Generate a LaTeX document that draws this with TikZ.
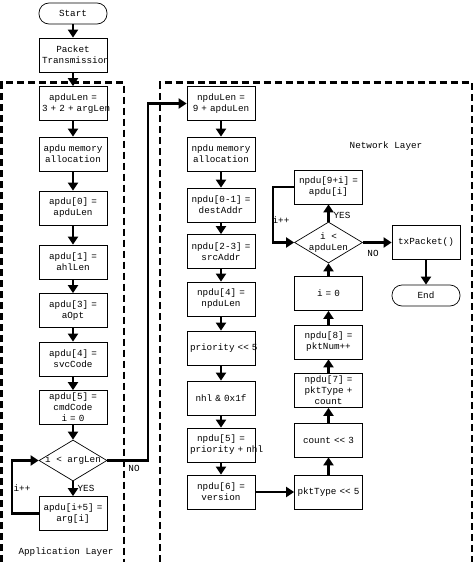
\documentclass[tikz,border=0pt]{standalone}
\usepackage{fontspec}
\newfontfamily\flowfont{Liberation Mono}[WordSpace={1,0,0}]
\newcommand\flowtext{\flowfont\fontsize{9.3}{11}\selectfont}
\usetikzlibrary{arrows.meta,shapes.geometric}

\tikzset{
  blk/.style={draw, line width=0.7pt, text width=62pt, minimum height=34pt,
    inner xsep=3pt, inner ysep=1pt, align=center},
  term/.style={draw, line width=0.7pt, rounded corners=10pt,
    minimum width=68pt, minimum height=21pt},
  cond/.style={draw, line width=0.7pt, diamond, minimum width=68pt,
    minimum height=41pt, inner sep=0pt},
  arr/.style={line width=2.2pt, -{Triangle[length=8pt,width=10pt]}},
  layer/.style={line width=2.4pt, dash pattern=on 7pt off 4pt},
  lbl/.style={inner sep=1pt}
}

\begin{document}
\begin{tikzpicture}[x=1pt,y=-1pt,font=\flowtext]
\useasboundingbox (0,0) rectangle (474,562);

% layers
\draw[layer] (1.5,562) -- (1.5,82.5) -- (124,82.5) -- (124,562);
\draw[layer] (160,562) -- (160,82.5) -- (472,82.5) -- (472,562);
\node[lbl] (applbl) at (66,552) {Application Layer};
\node[lbl] (netlbl) at (386,146) {Network Layer};

% application layer
\node[term] (start) at (73,13.5) {Start};
\node[blk] (pkt) at (73,55) {Packet\\\mbox{Transmission}};
\node[blk] (a1) at (73,103.5) {apduLen =\\\mbox{3 + 2 + argLen}};
\node[blk] (a2) at (73,154) {\mbox{apdu memory}\\allocation};
\node[blk] (a3) at (73,208) {apdu[0] =\\apduLen};
\node[blk] (a4) at (73,262) {apdu[1] =\\ahlLen};
\node[blk] (a5) at (73,310.5) {apdu[3] =\\aOpt};
\node[blk] (a6) at (73,359) {apdu[4] =\\svcCode};
\node[blk] (a7) at (73,407.5) {apdu[5] =\\cmdCode\\i = 0};
\node[cond, label={[lbl]center:i < argLen}] (d1) at (73,460.5) {};
\node[blk] (ai5) at (73,513.5) {\mbox{apdu[i+5] =}\\arg[i]};

\node[lbl] (yes1) at (86,488) {YES};
\node[lbl] (no1) at (134,468) {NO};
\node[lbl] (inc1) at (22,488) {i++};

% network layer
\node[blk] (n1) at (221,103.5) {npduLen =\\\mbox{9 + apduLen}};
\node[blk] (n2) at (221,154) {\mbox{npdu memory}\\allocation};
\node[blk] (n3) at (221,205) {\mbox{npdu[0-1] =}\\destAddr};
\node[blk] (n4) at (221,251.5) {\mbox{npdu[2-3] =}\\srcAddr};
\node[blk] (n5) at (221,299) {npdu[4] =\\npduLen};
\node[blk] (n6) at (221,348) {\mbox{priority << 5}};
\node[blk] (n7) at (221,398) {nhl \& 0x1f};
\node[blk] (n8) at (221,445) {npdu[5] =\\\mbox{priority + nhl}};
\node[blk] (n9) at (221,492) {npdu[6] =\\version};

\node[blk] (pk5) at (328.5,492) {\mbox{pktType << 5}};
\node[blk] (c3) at (328.5,440) {count << 3};
\node[blk] (n10) at (328.5,390.5) {npdu[7] =\\pktType +\\count};
\node[blk] (n11) at (328.5,342) {npdu[8] =\\pktNum++};
\node[blk] (i0) at (328.5,293.5) {i = 0};
\node[cond, label={[lbl,align=center]center:i <\\apduLen}] (d2) at (328.5,242.5) {};
\node[blk] (n9i) at (328.5,187) {\mbox{npdu[9+i] =}\\apdu[i]};
\node[blk] (tx) at (426,242.5) {txPacket()};
\node[term] (end) at (426,295.5) {End};

\node[lbl] (yes2) at (342,215) {YES};
\node[lbl] (no2) at (373,253) {NO};
\node[lbl] (inc2) at (281,220) {i++};

% connectors
\draw[arr] (start) -- (pkt); \draw[arr] (pkt) -- (a1); \draw[arr] (a1) -- (a2);
\draw[arr] (a2) -- (a3); \draw[arr] (a3) -- (a4); \draw[arr] (a4) -- (a5);
\draw[arr] (a5) -- (a6); \draw[arr] (a6) -- (a7); \draw[arr] (a7) -- (d1);
\draw[arr] (d1) -- (ai5);
\draw[arr] (ai5.west) -- ++(-27,0) |- (d1.west);
\draw[arr] (d1.east) -- ++(41,0) |- (n1.west);

\draw[arr] (n1) -- (n2); \draw[arr] (n2) -- (n3); \draw[arr] (n3) -- (n4);
\draw[arr] (n4) -- (n5); \draw[arr] (n5) -- (n6); \draw[arr] (n6) -- (n7);
\draw[arr] (n7) -- (n8); \draw[arr] (n8) -- (n9);
\draw[arr] (n9) -- (pk5);
\draw[arr] (pk5) -- (c3); \draw[arr] (c3) -- (n10); \draw[arr] (n10) -- (n11);
\draw[arr] (n11) -- (i0); \draw[arr] (i0) -- (d2); \draw[arr] (d2) -- (n9i);
\draw[arr] (n9i.west) -- ++(-21,0) |- (d2.west);
\draw[arr] (d2.east) -- (tx.west);
\draw[arr] (tx) -- (end);
\end{tikzpicture}
\end{document}
